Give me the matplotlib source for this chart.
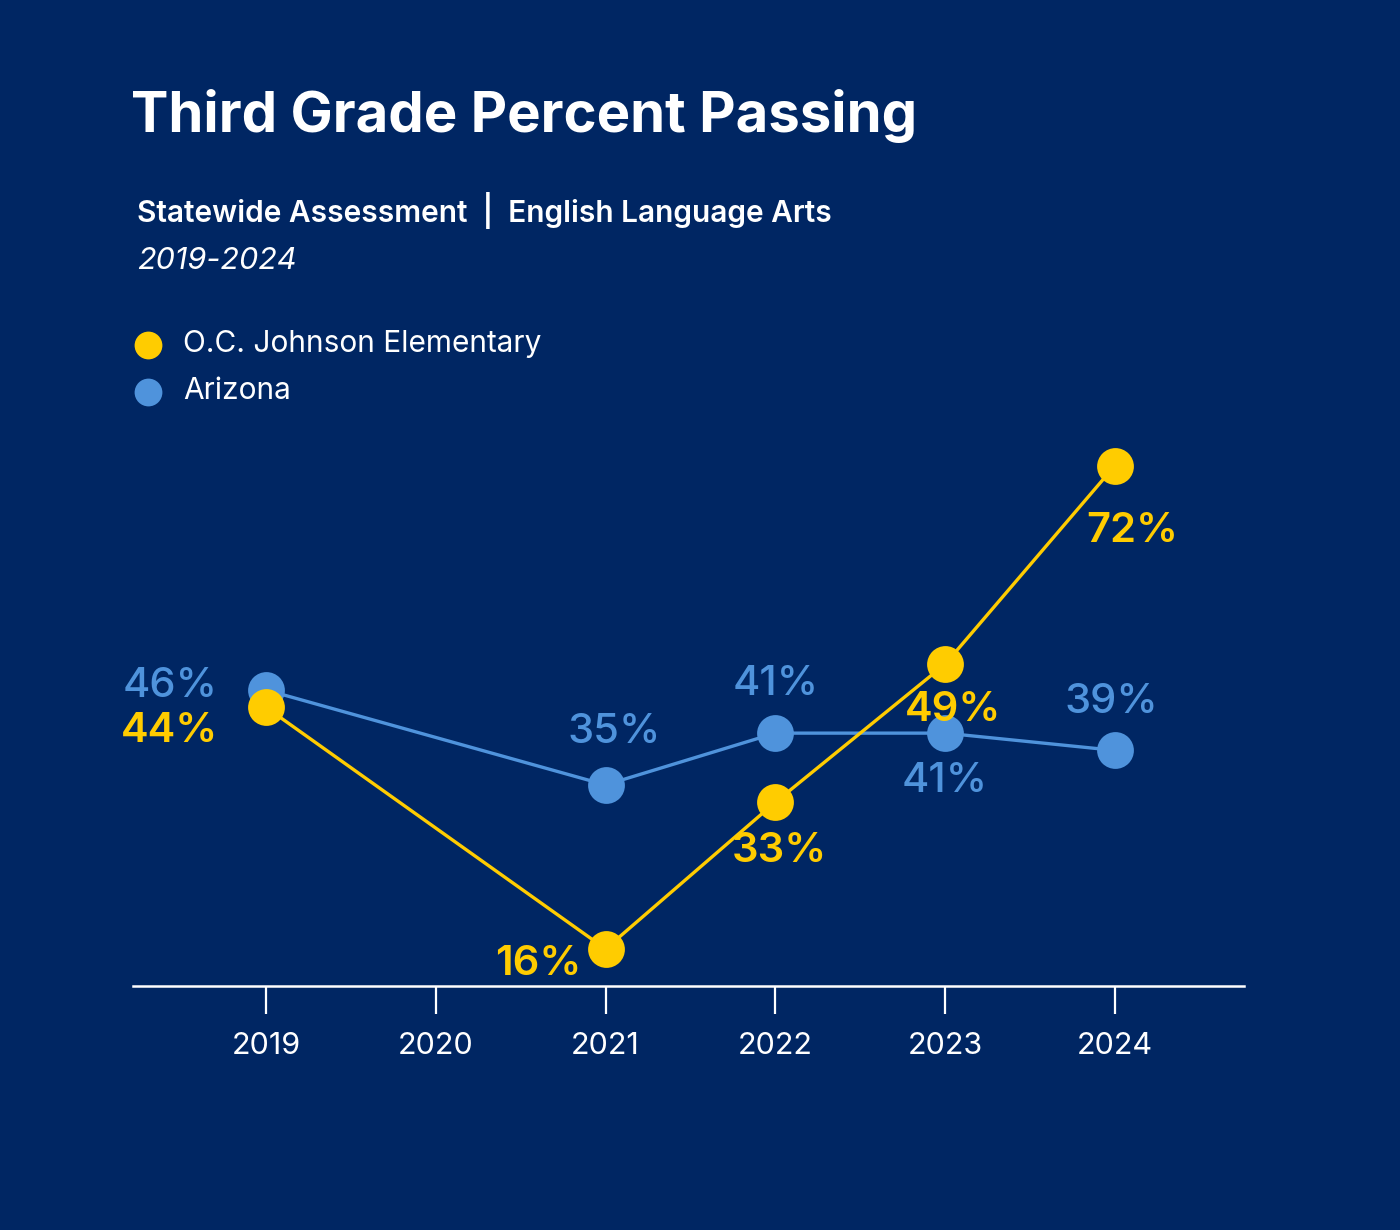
import matplotlib
matplotlib.use("Agg")
import matplotlib.pyplot as plt

# Дані
years = [2019, 2020, 2021, 2022, 2023, 2024]
school_years = [2019, 2021, 2022, 2023, 2024]
school = [44, 16, 33, 49, 72]
arizona_years = [2019, 2021, 2022, 2023, 2024]
arizona = [46, 35, 41, 41, 39]

school_name = "O.C. Johnson Elementary"
state_name = "Arizona"

BG = "#002663"
YELLOW = "#FFCC00"
BLUE = "#4F93DC"
WHITE = "#FFFFFF"

plt.rcParams["font.family"] = ["Inter", "DejaVu Sans"]

fig = plt.figure(figsize=(14, 12.3), dpi=100, facecolor=BG)
ax = fig.add_axes([133 / 1400, 1 - 986 / 1230, 1111 / 1400, 586 / 1230])
ax.set_facecolor(BG)

ax.plot(arizona_years, arizona, color=BLUE, lw=2.4, marker="o", ms=26.5,
        markeredgewidth=0, zorder=3)
ax.plot(school_years, school, color=YELLOW, lw=2.4, marker="o", ms=26.5,
        markeredgewidth=0, zorder=4)

ax.set_xlim(2018.217, 2024.76)
ax.set_ylim(11.7, 79.6)

# Підписи значень (зсув у пікселях)
school_offsets = [(-48, -24, "right"), (-24, -15, "right"), (4, -49, "center"),
                  (8, -46, "center"), (17, -65, "center")]
arizona_offsets = [(-48, 4, "right"), (9, 53, "center"), (0, 49, "center"),
                   (0, -48, "center"), (-4, 48, "center")]

for x, v, (dx, dy, ha) in zip(school_years, school, school_offsets):
    ax.annotate(f"{v}%", (x, v), xytext=(dx * 0.72, dy * 0.72),
                textcoords="offset points", ha=ha, va="center",
                fontsize=30, fontweight="semibold", color=YELLOW, zorder=5)
for x, v, (dx, dy, ha) in zip(arizona_years, arizona, arizona_offsets):
    ax.annotate(f"{v}%", (x, v), xytext=(dx * 0.72, dy * 0.72),
                textcoords="offset points", ha=ha, va="center",
                fontsize=30, fontweight="medium", color=BLUE, zorder=5)

for s in ["top", "right", "left"]:
    ax.spines[s].set_visible(False)
ax.spines["bottom"].set_color(WHITE)
ax.spines["bottom"].set_linewidth(1.8)
ax.set_yticks([])
ax.set_xticks(years)
ax.set_xticklabels([str(y) for y in years])
ax.tick_params(axis="x", colors=WHITE, length=20, width=1.6, pad=13,
               labelsize=22)

# Заголовки
fig.text(131 / 1400, 1 - 132 / 1230, "Third Grade Percent Passing",
         fontsize=40.5, fontweight="bold", color=WHITE, va="baseline")
fig.text(137 / 1400, 1 - 222 / 1230,
         "Statewide Assessment  |  English Language Arts",
         fontsize=21.5, fontweight="semibold", color=WHITE, va="baseline")
fig.text(137 / 1400, 1 - 269 / 1230, "2019-2024", fontsize=22,
         fontstyle="italic", color=WHITE, va="baseline")

# Легенда
for yy, col, name in [(345, YELLOW, school_name), (392, BLUE, state_name)]:
    fig.lines.append(plt.Line2D([148 / 1400], [1 - yy / 1230], marker="o",
                                ms=20, color=col, markeredgewidth=0,
                                transform=fig.transFigure))
    fig.text(183 / 1400, 1 - (yy - 1) / 1230, name, fontsize=21.5,
             color=WHITE, va="center")

fig.savefig("out.png", dpi=100, facecolor=BG)
